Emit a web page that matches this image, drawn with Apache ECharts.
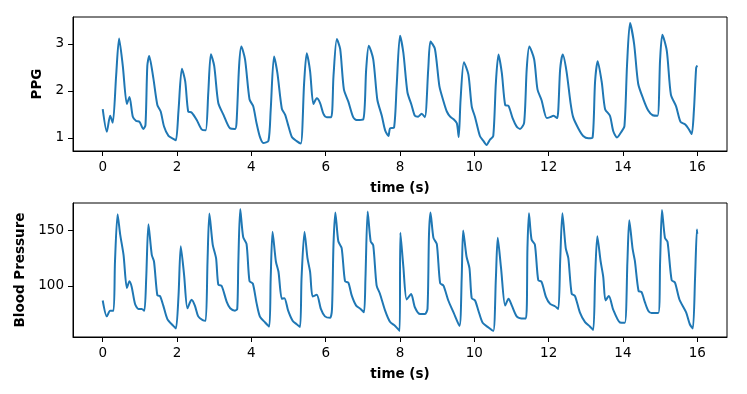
<!DOCTYPE html>
<html>
<head>
<meta charset="utf-8">
<script src="https://cdn.jsdelivr.net/npm/echarts@6/dist/echarts.min.js"></script>
<style>
html,body{margin:0;padding:0;background:#fff;}
#chart{width:747px;height:394px;}
</style>
</head>
<body>
<div id="chart"></div>
<script>
// ---- data ----
const xTicks = [0, 2, 4, 6, 8, 10, 12, 14, 16];
const ppgTicks = [1, 2, 3];
const bpTicks = [100, 150];

const ppgTime = [0.00,0.11,0.20,0.27,0.36,0.44,0.54,0.65,0.72,0.81,0.90,0.99,1.09,1.15,1.20,1.25,1.36,1.47,1.56,1.65,1.77,1.90,1.97,2.04,2.13,2.22,2.30,2.39,2.53,2.66,2.77,2.84,2.91,3.00,3.11,3.25,3.43,3.56,3.60,3.67,3.73,3.83,3.95,4.05,4.14,4.23,4.32,4.46,4.52,4.61,4.70,4.82,4.91,4.99,5.09,5.22,5.33,5.42,5.49,5.58,5.67,5.76,5.85,5.94,6.03,6.15,6.21,6.30,6.39,6.49,6.61,6.74,6.83,7.01,7.09,7.16,7.28,7.39,7.51,7.60,7.69,7.73,7.84,7.91,8.00,8.09,8.20,8.31,8.40,8.49,8.58,8.67,8.76,8.82,8.94,9.06,9.17,9.26,9.35,9.45,9.53,9.58,9.63,9.72,9.84,9.93,10.02,10.15,10.24,10.33,10.42,10.51,10.58,10.65,10.74,10.83,10.92,11.03,11.14,11.23,11.34,11.41,11.48,11.61,11.70,11.81,11.95,12.04,12.13,12.23,12.31,12.38,12.48,12.59,12.66,12.80,12.93,13.07,13.18,13.25,13.32,13.43,13.52,13.65,13.74,13.84,13.95,14.04,14.11,14.19,14.30,14.41,14.55,14.68,14.80,14.93,15.00,15.06,15.18,15.29,15.43,15.55,15.67,15.76,15.85,15.91,15.97,16.00];
const ppgValue = [1.61,1.13,1.47,1.32,2.31,3.11,2.53,1.72,1.87,1.45,1.36,1.34,1.19,1.27,2.53,2.74,2.28,1.70,1.56,1.24,1.04,0.98,0.95,1.59,2.47,2.20,1.56,1.54,1.38,1.18,1.16,1.95,2.78,2.53,1.74,1.49,1.20,1.19,1.31,2.53,2.94,2.67,1.82,1.67,1.31,1.02,0.89,0.94,1.59,2.73,2.38,1.62,1.49,1.27,1.02,0.93,0.88,2.17,2.80,2.42,1.72,1.84,1.74,1.51,1.44,1.44,2.31,3.10,2.89,2.03,1.77,1.44,1.38,1.39,2.46,2.96,2.67,1.81,1.47,1.16,1.04,1.20,1.22,2.10,3.17,2.81,1.97,1.70,1.47,1.45,1.51,1.44,2.46,3.05,2.89,2.10,1.78,1.56,1.45,1.39,1.31,1.02,1.81,2.61,2.35,1.67,1.44,1.04,0.94,0.85,0.96,1.04,2.17,2.77,2.38,1.70,1.68,1.42,1.24,1.19,1.32,2.46,2.94,2.67,2.03,1.80,1.42,1.44,1.47,1.42,2.46,2.77,2.42,1.74,1.44,1.20,1.04,0.99,1.00,2.20,2.63,2.18,1.61,1.47,1.14,1.01,1.12,1.25,2.55,3.44,3.00,2.15,1.82,1.58,1.48,1.47,2.67,3.19,2.85,1.92,1.67,1.34,1.29,1.20,1.08,1.59,2.49,2.54];

const bpTime = [0.00,0.11,0.20,0.29,0.33,0.40,0.47,0.56,0.65,0.72,0.78,0.87,0.96,1.05,1.12,1.17,1.23,1.32,1.38,1.47,1.54,1.63,1.74,1.90,1.97,2.04,2.10,2.19,2.28,2.39,2.48,2.57,2.69,2.77,2.82,2.87,2.96,3.05,3.11,3.20,3.34,3.43,3.56,3.62,3.65,3.70,3.78,3.87,3.95,4.04,4.14,4.23,4.37,4.48,4.52,4.57,4.66,4.73,4.82,4.89,4.99,5.11,5.22,5.31,5.35,5.43,5.51,5.58,5.65,5.76,5.87,5.98,6.12,6.17,6.21,6.26,6.34,6.43,6.52,6.61,6.70,6.82,6.94,7.03,7.07,7.13,7.21,7.28,7.37,7.46,7.60,7.73,7.87,7.99,8.01,8.09,8.18,8.30,8.40,8.54,8.67,8.74,8.78,8.82,8.90,8.99,9.08,9.17,9.30,9.44,9.60,9.66,9.70,9.79,9.87,9.93,10.02,10.11,10.22,10.38,10.51,10.58,10.63,10.72,10.83,10.92,11.01,11.14,11.27,11.39,11.43,11.47,11.54,11.63,11.72,11.81,11.93,12.04,12.17,12.26,12.31,12.37,12.46,12.53,12.62,12.71,12.84,12.98,13.11,13.20,13.25,13.31,13.40,13.47,13.53,13.62,13.74,13.92,14.05,14.12,14.17,14.26,14.32,14.42,14.50,14.59,14.68,14.77,14.95,15.00,15.05,15.13,15.20,15.31,15.40,15.52,15.70,15.80,15.88,15.94,15.99,16.00];
const bpValue = [86.9,72.6,77.7,77.7,122,164.6,146.3,128,98.2,104.3,99.1,83.8,79.3,79.3,77.7,106.7,155.5,128,122,91.5,90.9,82.3,70.1,64.0,61.6,91.5,135.7,109.8,79.9,87.5,82.3,72.6,69.2,68.6,122,165.2,137.2,125,101.2,100,85.4,79.9,77.7,79.3,122,169.2,143.9,137.8,104.3,102.1,84.5,72.4,67.1,63.4,106.7,148.8,122,112.8,88.4,89.0,77.7,68.6,65.5,63.1,106.7,148.8,125,112.8,90.5,92.1,79.3,72.6,71.3,79.3,137.2,166.2,140.2,134.1,104.3,103.0,91.5,82.3,79.3,76.2,106.7,167.1,140.2,136.6,100.6,93.0,77.7,67.7,64.0,59.5,147.9,117.4,87.8,92.7,80.8,74.7,74.7,79.3,146.3,166.2,143.3,137.8,102.5,100.3,86.9,76.2,64.0,106.7,150,126.5,115.9,89.0,86.9,77.7,67.1,62.5,59.5,106.7,143.3,115.9,82.3,88.4,82.3,72.6,70.7,70.7,134.1,165.5,141.8,137.2,105.2,103.7,89.9,83.8,81.7,79.3,122,165.5,134.1,125,93.0,90.9,76.2,67.4,63.5,60.4,106.7,144.8,122,108,86.9,90.9,78.5,67.1,66.8,122,159.1,133.3,122.7,95.5,94.5,85.4,77.7,75.6,75.6,122,168.3,143.3,139.6,105.2,103.0,87.8,76.2,65.5,61.6,106.7,150.9,147];

// ---- build ----
function pairs(t, v) { return t.map((x, i) => [x, v[i]]); }
function padded(arr) {
  const lo = Math.min(...arr), hi = Math.max(...arr), m = (hi - lo) * 0.05;
  return [lo - m, hi + m];
}
const xr = padded(ppgTime);
const pr = padded(ppgValue);
const br = padded(bpValue);

const FONT = 'DejaVu Sans';
const FS = 13.5;
function xAxis(gi) {
  return {
    type: 'value', gridIndex: gi, min: xr[0], max: xr[1],
    name: 'time (s)', nameLocation: 'middle', nameGap: 30,
    nameTextStyle: { fontFamily: FONT, fontSize: FS, fontWeight: 'bold', color: '#000' },
    axisLine: { show: true, onZero: false, lineStyle: { color: '#000', width: 1 } },
    axisTick: { show: true, inside: false, length: 5, lineStyle: { color: '#000', width: 1 }, customValues: xTicks },
    axisLabel: { fontFamily: FONT, fontSize: FS, color: '#000', margin: 9, customValues: xTicks },
    splitLine: { show: false }
  };
}
function yAxis(gi, r, ticks, name, gap) {
  return {
    type: 'value', gridIndex: gi, min: r[0], max: r[1],
    name: name, nameLocation: 'middle', nameGap: gap, nameRotate: 90,
    nameTextStyle: { fontFamily: FONT, fontSize: FS, fontWeight: 'bold', color: '#000' },
    axisLine: { show: true, onZero: false, lineStyle: { color: '#000', width: 1 } },
    axisTick: { show: true, inside: false, length: 5, lineStyle: { color: '#000', width: 1 }, customValues: ticks },
    axisLabel: { fontFamily: FONT, fontSize: FS, color: '#000', margin: 9, customValues: ticks },
    splitLine: { show: false }
  };
}

const chart = echarts.init(document.getElementById('chart'), null, { renderer: 'canvas' });
chart.setOption({
  animation: false,
  backgroundColor: '#fff',
  grid: [
    { left: 73, top: 17, width: 654, height: 134, show: true, borderColor: '#000', borderWidth: 1, backgroundColor: 'transparent' },
    { left: 73, top: 203, width: 654, height: 134, show: true, borderColor: '#000', borderWidth: 1, backgroundColor: 'transparent' }
  ],
  xAxis: [xAxis(0), xAxis(1)],
  yAxis: [yAxis(0, pr, ppgTicks, 'PPG', 25), yAxis(1, br, bpTicks, 'Blood Pressure', 37)],
  series: [
    { type: 'line', xAxisIndex: 0, yAxisIndex: 0, data: pairs(ppgTime, ppgValue), showSymbol: false, smooth: 0.25,
      lineStyle: { color: '#1f77b4', width: 2 } },
    { type: 'line', xAxisIndex: 1, yAxisIndex: 1, data: pairs(bpTime, bpValue), showSymbol: false, smooth: 0.25,
      lineStyle: { color: '#1f77b4', width: 2 } }
  ]
});
</script>
</body>
</html>
